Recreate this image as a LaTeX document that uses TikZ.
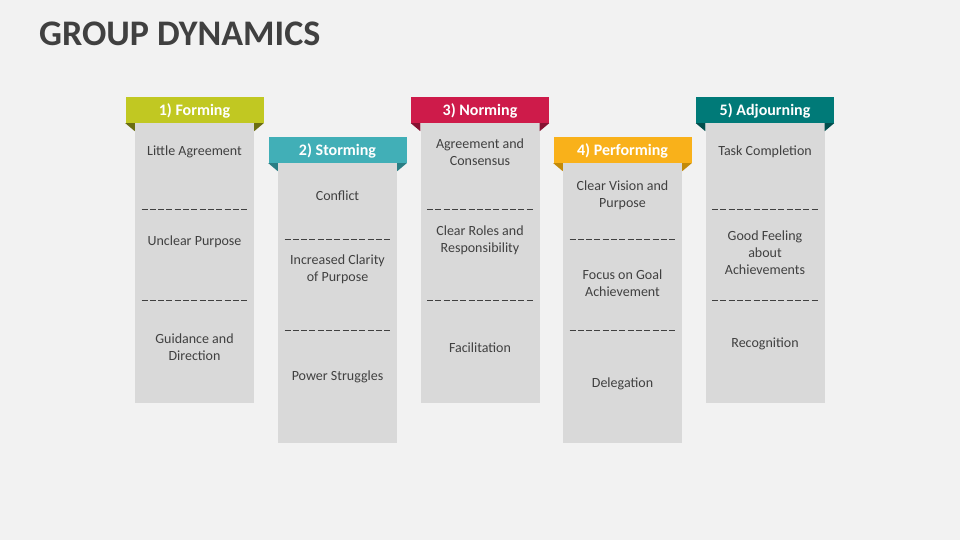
\documentclass[tikz,border=0pt]{standalone}
\usepackage{fontspec}
\setmainfont{Carlito}
\usepackage{tikz}
\usetikzlibrary{positioning}
\definecolor{bgCol}{HTML}{F2F2F2}
\definecolor{cardCol}{HTML}{D9D9D9}
\definecolor{txtCol}{HTML}{404040}
\definecolor{frmCol}{HTML}{C1C822}
\definecolor{frmFold}{HTML}{6B6E12}
\definecolor{stmCol}{HTML}{41AFB7}
\definecolor{stmFold}{HTML}{2A7E84}
\definecolor{nrmCol}{HTML}{CE1B4A}
\definecolor{nrmFold}{HTML}{861131}
\definecolor{prfCol}{HTML}{F9B11A}
\definecolor{prfFold}{HTML}{C38A08}
\definecolor{adjCol}{HTML}{007A78}
\definecolor{adjFold}{HTML}{014F4D}
\tikzset{
  hdr/.style={fill=#1, minimum width=138pt, minimum height=26pt, inner sep=0pt,
              text height=11.5pt, text depth=1pt,
              font=\fontsize{16}{18}\selectfont\bfseries, text=white},
  card/.style={fill=cardCol, minimum width=119pt, minimum height=280pt, inner sep=0pt},
  item/.style={font=\fontsize{14}{17}\selectfont, text=txtCol, align=center, yshift=-1.5pt},
  sep/.style={draw=txtCol, line width=1.3pt, dash pattern=on 6pt off 2.3pt},
}
% header band, grey card and the two folded corners
\newcommand{\stage}[5]{%
  \node[hdr=#3] (#1h) at #2 {#5};
  \node[card, below=0pt of #1h] (#1c) {};
  \fill[#4] (#1h.south west) -- (#1c.north west) -- ([yshift=-8pt]#1c.north west) -- cycle;
  \fill[#4] (#1h.south east) -- (#1c.north east) -- ([yshift=-8pt]#1c.north east) -- cycle;}
\newcommand{\entry}[4]{\node[item] (#1) at ([yshift=-#3pt]#2.north) {#4};}
\newcommand{\sepline}[2]{\draw[sep] ([xshift=-53pt,yshift=-#2pt]#1.north) -- ([xshift=54pt,yshift=-#2pt]#1.north);}

\begin{document}
\begin{tikzpicture}[x=1pt,y=-1pt]
  \fill[bgCol] (0,0) rectangle (960,540);
  \useasboundingbox (0,0) rectangle (960,540);
  \node[anchor=base west, inner sep=0pt, text=txtCol, font=\fontsize{36}{40}\selectfont\bfseries]
    (title) at (39,46) {GROUP DYNAMICS};

  \stage{f}{(194.5,110)}{frmCol}{frmFold}{1) Forming}
  \stage{s}{(337.5,150)}{stmCol}{stmFold}{2) Storming}
  \stage{n}{(480,110)}{nrmCol}{nrmFold}{3) Norming}
  \stage{p}{(622.5,150)}{prfCol}{prfFold}{4) Performing}
  \stage{a}{(765,110)}{adjCol}{adjFold}{5) Adjourning}

  % Forming
  \entry{f1}{fc}{27}{Little Agreement}
  \sepline{fc}{86}
  \entry{f2}{fc}{117}{Unclear Purpose}
  \sepline{fc}{177}
  \entry{f3}{fc}{222}{Guidance and\\Direction}
  % Storming
  \entry{s1}{sc}{31}{Conflict}
  \sepline{sc}{76}
  \entry{s2}{sc}{105}{Increased Clarity\\of Purpose}
  \sepline{sc}{167}
  \entry{s3}{sc}{212}{Power Struggles}
  % Norming
  \entry{n1}{nc}{27}{Agreement and\\Consensus}
  \sepline{nc}{86}
  \entry{n2}{nc}{116}{Clear Roles and\\Responsibility}
  \sepline{nc}{177}
  \entry{n3}{nc}{223}{Facilitation}
  % Performing
  \entry{p1}{pc}{31}{Clear Vision and\\Purpose}
  \sepline{pc}{76}
  \entry{p2}{pc}{118}{Focus on Goal\\Achievement}
  \sepline{pc}{167}
  \entry{p3}{pc}{219}{Delegation}
  % Adjourning
  \entry{a1}{ac}{27}{Task Completion}
  \sepline{ac}{86}
  \entry{a2}{ac}{128}{Good Feeling\\about\\Achievements}
  \sepline{ac}{177}
  \entry{a3}{ac}{219}{Recognition}
\end{tikzpicture}
\end{document}
